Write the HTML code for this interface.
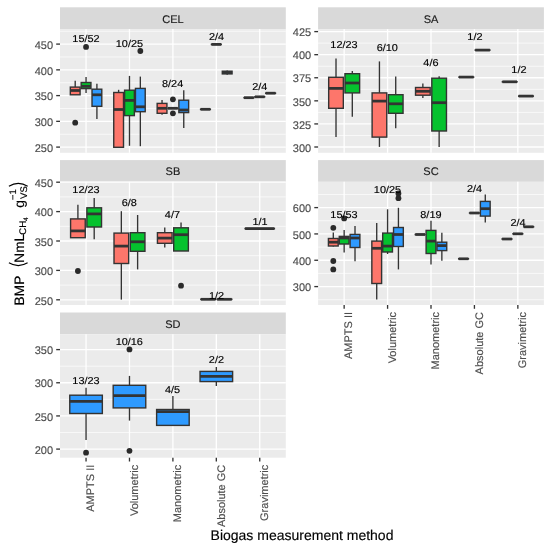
<!DOCTYPE html><html><head><meta charset="utf-8"><style>html,body{margin:0;padding:0;background:#fff;}svg{display:block;will-change:transform;}text{font-family:"Liberation Sans", sans-serif;stroke-width:0.15px;text-rendering:geometricPrecision;}.ax{fill:#4D4D4D;stroke:#4D4D4D;}.bk{fill:#000;stroke:#000;}.st{fill:#1A1A1A;stroke:#1A1A1A;}</style></head><body>
<svg width="550" height="547" viewBox="0 0 550 547">
<rect x="0" y="0" width="550" height="547" fill="#fff"/>
<rect x="60.0" y="7.3" width="225.80" height="21.80" fill="#D9D9D9"/>
<text x="172.90" y="22.50" font-size="11.0" class="st" text-anchor="middle">CEL</text>
<rect x="60.0" y="29.1" width="225.80" height="123.70" fill="#EBEBEB"/>
<line x1="60.0" x2="285.8" y1="134.22" y2="134.22" stroke="#fff" stroke-width="0.67"/>
<line x1="60.0" x2="285.8" y1="108.47" y2="108.47" stroke="#fff" stroke-width="0.67"/>
<line x1="60.0" x2="285.8" y1="82.72" y2="82.72" stroke="#fff" stroke-width="0.67"/>
<line x1="60.0" x2="285.8" y1="56.98" y2="56.98" stroke="#fff" stroke-width="0.67"/>
<line x1="60.0" x2="285.8" y1="31.23" y2="31.23" stroke="#fff" stroke-width="0.67"/>
<line x1="60.0" x2="285.8" y1="44.10" y2="44.10" stroke="#fff" stroke-width="1.33"/>
<line x1="56.20" x2="60.0" y1="44.10" y2="44.10" stroke="#333" stroke-width="1.33"/>
<text x="53.10" y="48.80" font-size="11.0" class="ax" text-anchor="end">450</text>
<line x1="60.0" x2="285.8" y1="69.85" y2="69.85" stroke="#fff" stroke-width="1.33"/>
<line x1="56.20" x2="60.0" y1="69.85" y2="69.85" stroke="#333" stroke-width="1.33"/>
<text x="53.10" y="74.55" font-size="11.0" class="ax" text-anchor="end">400</text>
<line x1="60.0" x2="285.8" y1="95.60" y2="95.60" stroke="#fff" stroke-width="1.33"/>
<line x1="56.20" x2="60.0" y1="95.60" y2="95.60" stroke="#333" stroke-width="1.33"/>
<text x="53.10" y="100.30" font-size="11.0" class="ax" text-anchor="end">350</text>
<line x1="60.0" x2="285.8" y1="121.35" y2="121.35" stroke="#fff" stroke-width="1.33"/>
<line x1="56.20" x2="60.0" y1="121.35" y2="121.35" stroke="#333" stroke-width="1.33"/>
<text x="53.10" y="126.05" font-size="11.0" class="ax" text-anchor="end">300</text>
<line x1="60.0" x2="285.8" y1="147.10" y2="147.10" stroke="#fff" stroke-width="1.33"/>
<line x1="56.20" x2="60.0" y1="147.10" y2="147.10" stroke="#333" stroke-width="1.33"/>
<text x="53.10" y="151.80" font-size="11.0" class="ax" text-anchor="end">250</text>
<line x1="86.05" x2="86.05" y1="29.1" y2="152.8" stroke="#fff" stroke-width="1.33"/>
<line x1="129.48" x2="129.48" y1="29.1" y2="152.8" stroke="#fff" stroke-width="1.33"/>
<line x1="172.90" x2="172.90" y1="29.1" y2="152.8" stroke="#fff" stroke-width="1.33"/>
<line x1="216.32" x2="216.32" y1="29.1" y2="152.8" stroke="#fff" stroke-width="1.33"/>
<line x1="259.75" x2="259.75" y1="29.1" y2="152.8" stroke="#fff" stroke-width="1.33"/>
<rect x="318.1" y="7.3" width="225.80" height="21.80" fill="#D9D9D9"/>
<text x="431.00" y="22.50" font-size="11.0" class="st" text-anchor="middle">SA</text>
<rect x="318.1" y="29.1" width="225.80" height="123.70" fill="#EBEBEB"/>
<line x1="318.1" x2="543.9" y1="135.46" y2="135.46" stroke="#fff" stroke-width="0.67"/>
<line x1="318.1" x2="543.9" y1="112.38" y2="112.38" stroke="#fff" stroke-width="0.67"/>
<line x1="318.1" x2="543.9" y1="89.30" y2="89.30" stroke="#fff" stroke-width="0.67"/>
<line x1="318.1" x2="543.9" y1="66.22" y2="66.22" stroke="#fff" stroke-width="0.67"/>
<line x1="318.1" x2="543.9" y1="43.14" y2="43.14" stroke="#fff" stroke-width="0.67"/>
<line x1="318.1" x2="543.9" y1="31.60" y2="31.60" stroke="#fff" stroke-width="1.33"/>
<line x1="314.30" x2="318.1" y1="31.60" y2="31.60" stroke="#333" stroke-width="1.33"/>
<text x="311.20" y="36.30" font-size="11.0" class="ax" text-anchor="end">425</text>
<line x1="318.1" x2="543.9" y1="54.68" y2="54.68" stroke="#fff" stroke-width="1.33"/>
<line x1="314.30" x2="318.1" y1="54.68" y2="54.68" stroke="#333" stroke-width="1.33"/>
<text x="311.20" y="59.38" font-size="11.0" class="ax" text-anchor="end">400</text>
<line x1="318.1" x2="543.9" y1="77.76" y2="77.76" stroke="#fff" stroke-width="1.33"/>
<line x1="314.30" x2="318.1" y1="77.76" y2="77.76" stroke="#333" stroke-width="1.33"/>
<text x="311.20" y="82.46" font-size="11.0" class="ax" text-anchor="end">375</text>
<line x1="318.1" x2="543.9" y1="100.84" y2="100.84" stroke="#fff" stroke-width="1.33"/>
<line x1="314.30" x2="318.1" y1="100.84" y2="100.84" stroke="#333" stroke-width="1.33"/>
<text x="311.20" y="105.54" font-size="11.0" class="ax" text-anchor="end">350</text>
<line x1="318.1" x2="543.9" y1="123.92" y2="123.92" stroke="#fff" stroke-width="1.33"/>
<line x1="314.30" x2="318.1" y1="123.92" y2="123.92" stroke="#333" stroke-width="1.33"/>
<text x="311.20" y="128.62" font-size="11.0" class="ax" text-anchor="end">325</text>
<line x1="318.1" x2="543.9" y1="147.00" y2="147.00" stroke="#fff" stroke-width="1.33"/>
<line x1="314.30" x2="318.1" y1="147.00" y2="147.00" stroke="#333" stroke-width="1.33"/>
<text x="311.20" y="151.70" font-size="11.0" class="ax" text-anchor="end">300</text>
<line x1="344.15" x2="344.15" y1="29.1" y2="152.8" stroke="#fff" stroke-width="1.33"/>
<line x1="387.58" x2="387.58" y1="29.1" y2="152.8" stroke="#fff" stroke-width="1.33"/>
<line x1="431.00" x2="431.00" y1="29.1" y2="152.8" stroke="#fff" stroke-width="1.33"/>
<line x1="474.42" x2="474.42" y1="29.1" y2="152.8" stroke="#fff" stroke-width="1.33"/>
<line x1="517.85" x2="517.85" y1="29.1" y2="152.8" stroke="#fff" stroke-width="1.33"/>
<rect x="60.0" y="160.1" width="225.80" height="21.70" fill="#D9D9D9"/>
<text x="172.90" y="175.25" font-size="11.0" class="st" text-anchor="middle">SB</text>
<rect x="60.0" y="181.8" width="225.80" height="123.20" fill="#EBEBEB"/>
<line x1="60.0" x2="285.8" y1="285.10" y2="285.10" stroke="#fff" stroke-width="0.67"/>
<line x1="60.0" x2="285.8" y1="255.70" y2="255.70" stroke="#fff" stroke-width="0.67"/>
<line x1="60.0" x2="285.8" y1="226.30" y2="226.30" stroke="#fff" stroke-width="0.67"/>
<line x1="60.0" x2="285.8" y1="196.90" y2="196.90" stroke="#fff" stroke-width="0.67"/>
<line x1="60.0" x2="285.8" y1="182.20" y2="182.20" stroke="#fff" stroke-width="1.33"/>
<line x1="56.20" x2="60.0" y1="182.20" y2="182.20" stroke="#333" stroke-width="1.33"/>
<text x="53.10" y="186.90" font-size="11.0" class="ax" text-anchor="end">450</text>
<line x1="60.0" x2="285.8" y1="211.60" y2="211.60" stroke="#fff" stroke-width="1.33"/>
<line x1="56.20" x2="60.0" y1="211.60" y2="211.60" stroke="#333" stroke-width="1.33"/>
<text x="53.10" y="216.30" font-size="11.0" class="ax" text-anchor="end">400</text>
<line x1="60.0" x2="285.8" y1="241.00" y2="241.00" stroke="#fff" stroke-width="1.33"/>
<line x1="56.20" x2="60.0" y1="241.00" y2="241.00" stroke="#333" stroke-width="1.33"/>
<text x="53.10" y="245.70" font-size="11.0" class="ax" text-anchor="end">350</text>
<line x1="60.0" x2="285.8" y1="270.40" y2="270.40" stroke="#fff" stroke-width="1.33"/>
<line x1="56.20" x2="60.0" y1="270.40" y2="270.40" stroke="#333" stroke-width="1.33"/>
<text x="53.10" y="275.10" font-size="11.0" class="ax" text-anchor="end">300</text>
<line x1="60.0" x2="285.8" y1="299.80" y2="299.80" stroke="#fff" stroke-width="1.33"/>
<line x1="56.20" x2="60.0" y1="299.80" y2="299.80" stroke="#333" stroke-width="1.33"/>
<text x="53.10" y="304.50" font-size="11.0" class="ax" text-anchor="end">250</text>
<line x1="86.05" x2="86.05" y1="181.8" y2="305.0" stroke="#fff" stroke-width="1.33"/>
<line x1="129.48" x2="129.48" y1="181.8" y2="305.0" stroke="#fff" stroke-width="1.33"/>
<line x1="172.90" x2="172.90" y1="181.8" y2="305.0" stroke="#fff" stroke-width="1.33"/>
<line x1="216.32" x2="216.32" y1="181.8" y2="305.0" stroke="#fff" stroke-width="1.33"/>
<line x1="259.75" x2="259.75" y1="181.8" y2="305.0" stroke="#fff" stroke-width="1.33"/>
<rect x="318.1" y="160.1" width="225.80" height="21.70" fill="#D9D9D9"/>
<text x="431.00" y="175.25" font-size="11.0" class="st" text-anchor="middle">SC</text>
<rect x="318.1" y="181.8" width="225.80" height="123.20" fill="#EBEBEB"/>
<line x1="318.1" x2="543.9" y1="299.75" y2="299.75" stroke="#fff" stroke-width="0.67"/>
<line x1="318.1" x2="543.9" y1="273.42" y2="273.42" stroke="#fff" stroke-width="0.67"/>
<line x1="318.1" x2="543.9" y1="247.09" y2="247.09" stroke="#fff" stroke-width="0.67"/>
<line x1="318.1" x2="543.9" y1="220.76" y2="220.76" stroke="#fff" stroke-width="0.67"/>
<line x1="318.1" x2="543.9" y1="194.44" y2="194.44" stroke="#fff" stroke-width="0.67"/>
<line x1="318.1" x2="543.9" y1="207.60" y2="207.60" stroke="#fff" stroke-width="1.33"/>
<line x1="314.30" x2="318.1" y1="207.60" y2="207.60" stroke="#333" stroke-width="1.33"/>
<text x="311.20" y="212.30" font-size="11.0" class="ax" text-anchor="end">600</text>
<line x1="318.1" x2="543.9" y1="233.93" y2="233.93" stroke="#fff" stroke-width="1.33"/>
<line x1="314.30" x2="318.1" y1="233.93" y2="233.93" stroke="#333" stroke-width="1.33"/>
<text x="311.20" y="238.63" font-size="11.0" class="ax" text-anchor="end">500</text>
<line x1="318.1" x2="543.9" y1="260.26" y2="260.26" stroke="#fff" stroke-width="1.33"/>
<line x1="314.30" x2="318.1" y1="260.26" y2="260.26" stroke="#333" stroke-width="1.33"/>
<text x="311.20" y="264.96" font-size="11.0" class="ax" text-anchor="end">400</text>
<line x1="318.1" x2="543.9" y1="286.59" y2="286.59" stroke="#fff" stroke-width="1.33"/>
<line x1="314.30" x2="318.1" y1="286.59" y2="286.59" stroke="#333" stroke-width="1.33"/>
<text x="311.20" y="291.29" font-size="11.0" class="ax" text-anchor="end">300</text>
<line x1="344.15" x2="344.15" y1="181.8" y2="305.0" stroke="#fff" stroke-width="1.33"/>
<line x1="387.58" x2="387.58" y1="181.8" y2="305.0" stroke="#fff" stroke-width="1.33"/>
<line x1="431.00" x2="431.00" y1="181.8" y2="305.0" stroke="#fff" stroke-width="1.33"/>
<line x1="474.42" x2="474.42" y1="181.8" y2="305.0" stroke="#fff" stroke-width="1.33"/>
<line x1="517.85" x2="517.85" y1="181.8" y2="305.0" stroke="#fff" stroke-width="1.33"/>
<rect x="60.0" y="312.5" width="225.80" height="21.70" fill="#D9D9D9"/>
<text x="172.90" y="327.65" font-size="11.0" class="st" text-anchor="middle">SD</text>
<rect x="60.0" y="334.2" width="225.80" height="123.50" fill="#EBEBEB"/>
<line x1="60.0" x2="285.8" y1="432.51" y2="432.51" stroke="#fff" stroke-width="0.67"/>
<line x1="60.0" x2="285.8" y1="399.35" y2="399.35" stroke="#fff" stroke-width="0.67"/>
<line x1="60.0" x2="285.8" y1="366.18" y2="366.18" stroke="#fff" stroke-width="0.67"/>
<line x1="60.0" x2="285.8" y1="349.60" y2="349.60" stroke="#fff" stroke-width="1.33"/>
<line x1="56.20" x2="60.0" y1="349.60" y2="349.60" stroke="#333" stroke-width="1.33"/>
<text x="53.10" y="354.30" font-size="11.0" class="ax" text-anchor="end">350</text>
<line x1="60.0" x2="285.8" y1="382.77" y2="382.77" stroke="#fff" stroke-width="1.33"/>
<line x1="56.20" x2="60.0" y1="382.77" y2="382.77" stroke="#333" stroke-width="1.33"/>
<text x="53.10" y="387.47" font-size="11.0" class="ax" text-anchor="end">300</text>
<line x1="60.0" x2="285.8" y1="415.93" y2="415.93" stroke="#fff" stroke-width="1.33"/>
<line x1="56.20" x2="60.0" y1="415.93" y2="415.93" stroke="#333" stroke-width="1.33"/>
<text x="53.10" y="420.63" font-size="11.0" class="ax" text-anchor="end">250</text>
<line x1="60.0" x2="285.8" y1="449.10" y2="449.10" stroke="#fff" stroke-width="1.33"/>
<line x1="56.20" x2="60.0" y1="449.10" y2="449.10" stroke="#333" stroke-width="1.33"/>
<text x="53.10" y="453.80" font-size="11.0" class="ax" text-anchor="end">200</text>
<line x1="86.05" x2="86.05" y1="334.2" y2="457.7" stroke="#fff" stroke-width="1.33"/>
<line x1="129.48" x2="129.48" y1="334.2" y2="457.7" stroke="#fff" stroke-width="1.33"/>
<line x1="172.90" x2="172.90" y1="334.2" y2="457.7" stroke="#fff" stroke-width="1.33"/>
<line x1="216.32" x2="216.32" y1="334.2" y2="457.7" stroke="#fff" stroke-width="1.33"/>
<line x1="259.75" x2="259.75" y1="334.2" y2="457.7" stroke="#fff" stroke-width="1.33"/>
<line x1="86.05" x2="86.05" y1="457.7" y2="461.50" stroke="#333" stroke-width="1.33"/>
<text transform="translate(94.35,464.70) rotate(-90)" font-size="11.0" class="ax" text-anchor="end">AMPTS II</text>
<line x1="129.48" x2="129.48" y1="457.7" y2="461.50" stroke="#333" stroke-width="1.33"/>
<text transform="translate(137.78,464.70) rotate(-90)" font-size="11.0" class="ax" text-anchor="end">Volumetric</text>
<line x1="172.90" x2="172.90" y1="457.7" y2="461.50" stroke="#333" stroke-width="1.33"/>
<text transform="translate(181.20,464.70) rotate(-90)" font-size="11.0" class="ax" text-anchor="end">Manometric</text>
<line x1="216.32" x2="216.32" y1="457.7" y2="461.50" stroke="#333" stroke-width="1.33"/>
<text transform="translate(224.62,464.70) rotate(-90)" font-size="11.0" class="ax" text-anchor="end">Absolute GC</text>
<line x1="259.75" x2="259.75" y1="457.7" y2="461.50" stroke="#333" stroke-width="1.33"/>
<text transform="translate(268.05,464.70) rotate(-90)" font-size="11.0" class="ax" text-anchor="end">Gravimetric</text>
<line x1="344.15" x2="344.15" y1="305.0" y2="308.80" stroke="#333" stroke-width="1.33"/>
<text transform="translate(352.45,312.00) rotate(-90)" font-size="11.0" class="ax" text-anchor="end">AMPTS II</text>
<line x1="387.58" x2="387.58" y1="305.0" y2="308.80" stroke="#333" stroke-width="1.33"/>
<text transform="translate(395.88,312.00) rotate(-90)" font-size="11.0" class="ax" text-anchor="end">Volumetric</text>
<line x1="431.00" x2="431.00" y1="305.0" y2="308.80" stroke="#333" stroke-width="1.33"/>
<text transform="translate(439.30,312.00) rotate(-90)" font-size="11.0" class="ax" text-anchor="end">Manometric</text>
<line x1="474.42" x2="474.42" y1="305.0" y2="308.80" stroke="#333" stroke-width="1.33"/>
<text transform="translate(482.72,312.00) rotate(-90)" font-size="11.0" class="ax" text-anchor="end">Absolute GC</text>
<line x1="517.85" x2="517.85" y1="305.0" y2="308.80" stroke="#333" stroke-width="1.33"/>
<text transform="translate(526.15,312.00) rotate(-90)" font-size="11.0" class="ax" text-anchor="end">Gravimetric</text>
<text x="302.0" y="540.3" font-size="14" class="bk" text-anchor="middle">Biogas measurement method</text>
<line x1="75.20" x2="75.20" y1="80.70" y2="87.10" stroke="#333333" stroke-width="1.35"/>
<rect x="70.31" y="87.10" width="9.77" height="7.70" fill="#FD766B" stroke="#333333" stroke-width="1.4"/>
<line x1="70.31" x2="80.08" y1="90.50" y2="90.50" stroke="#333333" stroke-width="2.75"/>
<circle cx="75.20" cy="122.70" r="2.9" fill="#2A2A2A"/>
<line x1="86.05" x2="86.05" y1="77.00" y2="82.50" stroke="#333333" stroke-width="1.35"/>
<line x1="86.05" x2="86.05" y1="88.60" y2="93.00" stroke="#333333" stroke-width="1.35"/>
<rect x="81.17" y="82.50" width="9.77" height="6.10" fill="#05C22E" stroke="#333333" stroke-width="1.4"/>
<line x1="81.17" x2="90.94" y1="86.30" y2="86.30" stroke="#333333" stroke-width="2.75"/>
<circle cx="86.05" cy="46.90" r="2.9" fill="#2A2A2A"/>
<line x1="96.91" x2="96.91" y1="83.70" y2="89.20" stroke="#333333" stroke-width="1.35"/>
<line x1="96.91" x2="96.91" y1="106.30" y2="119.10" stroke="#333333" stroke-width="1.35"/>
<rect x="92.02" y="89.20" width="9.77" height="17.10" fill="#2E9AFF" stroke="#333333" stroke-width="1.4"/>
<line x1="92.02" x2="101.79" y1="94.80" y2="94.80" stroke="#333333" stroke-width="2.75"/>
<line x1="118.62" x2="118.62" y1="89.80" y2="92.50" stroke="#333333" stroke-width="1.35"/>
<rect x="113.74" y="92.50" width="9.77" height="54.80" fill="#FD766B" stroke="#333333" stroke-width="1.4"/>
<line x1="113.74" x2="123.51" y1="109.50" y2="109.50" stroke="#333333" stroke-width="2.75"/>
<line x1="129.48" x2="129.48" y1="75.90" y2="90.20" stroke="#333333" stroke-width="1.35"/>
<line x1="129.48" x2="129.48" y1="115.60" y2="145.80" stroke="#333333" stroke-width="1.35"/>
<rect x="124.59" y="90.20" width="9.77" height="25.40" fill="#05C22E" stroke="#333333" stroke-width="1.4"/>
<line x1="124.59" x2="134.36" y1="100.40" y2="100.40" stroke="#333333" stroke-width="2.75"/>
<line x1="140.33" x2="140.33" y1="76.60" y2="88.40" stroke="#333333" stroke-width="1.35"/>
<line x1="140.33" x2="140.33" y1="111.70" y2="146.20" stroke="#333333" stroke-width="1.35"/>
<rect x="135.45" y="88.40" width="9.77" height="23.30" fill="#2E9AFF" stroke="#333333" stroke-width="1.4"/>
<line x1="135.45" x2="145.22" y1="106.80" y2="106.80" stroke="#333333" stroke-width="2.75"/>
<circle cx="140.33" cy="51.00" r="2.9" fill="#2A2A2A"/>
<line x1="162.04" x2="162.04" y1="100.00" y2="103.40" stroke="#333333" stroke-width="1.35"/>
<line x1="162.04" x2="162.04" y1="113.30" y2="114.70" stroke="#333333" stroke-width="1.35"/>
<rect x="157.16" y="103.40" width="9.77" height="9.90" fill="#FD766B" stroke="#333333" stroke-width="1.4"/>
<line x1="157.16" x2="166.93" y1="108.30" y2="108.30" stroke="#333333" stroke-width="2.75"/>
<rect x="168.01" y="108.20" width="9.77" height="0.2" fill="#05C22E" stroke="#333333" stroke-width="1.4"/>
<line x1="168.01" x2="177.79" y1="108.30" y2="108.30" stroke="#333333" stroke-width="2.75"/>
<circle cx="172.90" cy="99.30" r="2.9" fill="#2A2A2A"/>
<circle cx="172.90" cy="113.30" r="2.9" fill="#2A2A2A"/>
<line x1="183.76" x2="183.76" y1="90.20" y2="100.20" stroke="#333333" stroke-width="1.35"/>
<line x1="183.76" x2="183.76" y1="112.60" y2="128.00" stroke="#333333" stroke-width="1.35"/>
<rect x="178.87" y="100.20" width="9.77" height="12.40" fill="#2E9AFF" stroke="#333333" stroke-width="1.4"/>
<line x1="178.87" x2="188.64" y1="110.00" y2="110.00" stroke="#333333" stroke-width="2.75"/>
<rect x="200.58" y="109.20" width="9.77" height="0.2" fill="#FD766B" stroke="#333333" stroke-width="1.4"/>
<line x1="200.58" x2="210.35" y1="109.30" y2="109.30" stroke="#333333" stroke-width="2.75"/>
<rect x="211.44" y="44.30" width="9.77" height="0.2" fill="#05C22E" stroke="#333333" stroke-width="1.4"/>
<line x1="211.44" x2="221.21" y1="44.40" y2="44.40" stroke="#333333" stroke-width="2.75"/>
<line x1="227.18" x2="227.18" y1="70.50" y2="71.20" stroke="#333333" stroke-width="1.35"/>
<line x1="227.18" x2="227.18" y1="73.90" y2="74.80" stroke="#333333" stroke-width="1.35"/>
<rect x="222.29" y="71.20" width="9.77" height="2.70" fill="#2E9AFF" stroke="#333333" stroke-width="1.4"/>
<line x1="222.29" x2="232.06" y1="72.50" y2="72.50" stroke="#333333" stroke-width="2.75"/>
<rect x="244.01" y="97.60" width="9.77" height="0.2" fill="#FD766B" stroke="#333333" stroke-width="1.4"/>
<line x1="244.01" x2="253.78" y1="97.70" y2="97.70" stroke="#333333" stroke-width="2.75"/>
<rect x="254.86" y="96.70" width="9.77" height="0.2" fill="#05C22E" stroke="#333333" stroke-width="1.4"/>
<line x1="254.86" x2="264.63" y1="96.80" y2="96.80" stroke="#333333" stroke-width="2.75"/>
<rect x="265.72" y="93.10" width="9.77" height="0.2" fill="#2E9AFF" stroke="#333333" stroke-width="1.4"/>
<line x1="265.72" x2="275.49" y1="93.20" y2="93.20" stroke="#333333" stroke-width="2.75"/>
<line x1="336.01" x2="336.01" y1="58.50" y2="77.30" stroke="#333333" stroke-width="1.35"/>
<line x1="336.01" x2="336.01" y1="108.30" y2="137.10" stroke="#333333" stroke-width="1.35"/>
<rect x="328.68" y="77.30" width="14.66" height="31.00" fill="#FD766B" stroke="#333333" stroke-width="1.4"/>
<line x1="328.68" x2="343.34" y1="88.40" y2="88.40" stroke="#333333" stroke-width="2.75"/>
<line x1="352.30" x2="352.30" y1="70.90" y2="73.70" stroke="#333333" stroke-width="1.35"/>
<line x1="352.30" x2="352.30" y1="92.90" y2="116.70" stroke="#333333" stroke-width="1.35"/>
<rect x="344.97" y="73.70" width="14.66" height="19.20" fill="#05C22E" stroke="#333333" stroke-width="1.4"/>
<line x1="344.97" x2="359.62" y1="83.00" y2="83.00" stroke="#333333" stroke-width="2.75"/>
<line x1="379.44" x2="379.44" y1="61.40" y2="92.90" stroke="#333333" stroke-width="1.35"/>
<line x1="379.44" x2="379.44" y1="137.10" y2="146.90" stroke="#333333" stroke-width="1.35"/>
<rect x="372.11" y="92.90" width="14.66" height="44.20" fill="#FD766B" stroke="#333333" stroke-width="1.4"/>
<line x1="372.11" x2="386.76" y1="101.10" y2="101.10" stroke="#333333" stroke-width="2.75"/>
<line x1="395.72" x2="395.72" y1="76.60" y2="94.70" stroke="#333333" stroke-width="1.35"/>
<line x1="395.72" x2="395.72" y1="113.30" y2="128.30" stroke="#333333" stroke-width="1.35"/>
<rect x="388.39" y="94.70" width="14.66" height="18.60" fill="#05C22E" stroke="#333333" stroke-width="1.4"/>
<line x1="388.39" x2="403.05" y1="103.80" y2="103.80" stroke="#333333" stroke-width="2.75"/>
<line x1="422.86" x2="422.86" y1="83.40" y2="87.50" stroke="#333333" stroke-width="1.35"/>
<line x1="422.86" x2="422.86" y1="95.20" y2="98.10" stroke="#333333" stroke-width="1.35"/>
<rect x="415.53" y="87.50" width="14.66" height="7.70" fill="#FD766B" stroke="#333333" stroke-width="1.4"/>
<line x1="415.53" x2="430.19" y1="91.30" y2="91.30" stroke="#333333" stroke-width="2.75"/>
<line x1="439.14" x2="439.14" y1="76.20" y2="78.20" stroke="#333333" stroke-width="1.35"/>
<line x1="439.14" x2="439.14" y1="131.00" y2="146.90" stroke="#333333" stroke-width="1.35"/>
<rect x="431.81" y="78.20" width="14.66" height="52.80" fill="#05C22E" stroke="#333333" stroke-width="1.4"/>
<line x1="431.81" x2="446.47" y1="102.70" y2="102.70" stroke="#333333" stroke-width="2.75"/>
<rect x="458.95" y="77.00" width="14.66" height="0.2" fill="#FD766B" stroke="#333333" stroke-width="1.4"/>
<line x1="458.95" x2="473.61" y1="77.10" y2="77.10" stroke="#333333" stroke-width="2.75"/>
<rect x="475.24" y="50.00" width="14.66" height="0.2" fill="#05C22E" stroke="#333333" stroke-width="1.4"/>
<line x1="475.24" x2="489.89" y1="50.10" y2="50.10" stroke="#333333" stroke-width="2.75"/>
<rect x="502.38" y="81.70" width="14.66" height="0.2" fill="#FD766B" stroke="#333333" stroke-width="1.4"/>
<line x1="502.38" x2="517.03" y1="81.80" y2="81.80" stroke="#333333" stroke-width="2.75"/>
<rect x="518.66" y="96.00" width="14.66" height="0.2" fill="#05C22E" stroke="#333333" stroke-width="1.4"/>
<line x1="518.66" x2="533.32" y1="96.10" y2="96.10" stroke="#333333" stroke-width="2.75"/>
<line x1="77.91" x2="77.91" y1="204.80" y2="218.90" stroke="#333333" stroke-width="1.35"/>
<rect x="70.58" y="218.90" width="14.66" height="18.80" fill="#FD766B" stroke="#333333" stroke-width="1.4"/>
<line x1="70.58" x2="85.24" y1="230.90" y2="230.90" stroke="#333333" stroke-width="2.75"/>
<circle cx="77.91" cy="271.00" r="2.9" fill="#2A2A2A"/>
<line x1="94.20" x2="94.20" y1="198.00" y2="207.80" stroke="#333333" stroke-width="1.35"/>
<line x1="94.20" x2="94.20" y1="227.00" y2="239.30" stroke="#333333" stroke-width="1.35"/>
<rect x="86.87" y="207.80" width="14.66" height="19.20" fill="#05C22E" stroke="#333333" stroke-width="1.4"/>
<line x1="86.87" x2="101.52" y1="213.90" y2="213.90" stroke="#333333" stroke-width="2.75"/>
<line x1="121.34" x2="121.34" y1="211.20" y2="233.10" stroke="#333333" stroke-width="1.35"/>
<line x1="121.34" x2="121.34" y1="263.50" y2="299.60" stroke="#333333" stroke-width="1.35"/>
<rect x="114.01" y="233.10" width="14.66" height="30.40" fill="#FD766B" stroke="#333333" stroke-width="1.4"/>
<line x1="114.01" x2="128.66" y1="246.10" y2="246.10" stroke="#333333" stroke-width="2.75"/>
<line x1="137.62" x2="137.62" y1="215.00" y2="232.70" stroke="#333333" stroke-width="1.35"/>
<line x1="137.62" x2="137.62" y1="251.30" y2="269.40" stroke="#333333" stroke-width="1.35"/>
<rect x="130.29" y="232.70" width="14.66" height="18.60" fill="#05C22E" stroke="#333333" stroke-width="1.4"/>
<line x1="130.29" x2="144.95" y1="241.80" y2="241.80" stroke="#333333" stroke-width="2.75"/>
<line x1="164.76" x2="164.76" y1="227.50" y2="232.70" stroke="#333333" stroke-width="1.35"/>
<line x1="164.76" x2="164.76" y1="243.30" y2="247.40" stroke="#333333" stroke-width="1.35"/>
<rect x="157.43" y="232.70" width="14.66" height="10.60" fill="#FD766B" stroke="#333333" stroke-width="1.4"/>
<line x1="157.43" x2="172.09" y1="238.10" y2="238.10" stroke="#333333" stroke-width="2.75"/>
<line x1="181.04" x2="181.04" y1="222.50" y2="227.80" stroke="#333333" stroke-width="1.35"/>
<rect x="173.71" y="227.80" width="14.66" height="23.20" fill="#05C22E" stroke="#333333" stroke-width="1.4"/>
<line x1="173.71" x2="188.37" y1="234.70" y2="234.70" stroke="#333333" stroke-width="2.75"/>
<circle cx="181.04" cy="285.70" r="2.9" fill="#2A2A2A"/>
<rect x="200.85" y="299.20" width="14.66" height="0.2" fill="#FD766B" stroke="#333333" stroke-width="1.4"/>
<line x1="200.85" x2="215.51" y1="299.30" y2="299.30" stroke="#333333" stroke-width="2.75"/>
<rect x="217.14" y="299.20" width="14.66" height="0.2" fill="#05C22E" stroke="#333333" stroke-width="1.4"/>
<line x1="217.14" x2="231.79" y1="299.30" y2="299.30" stroke="#333333" stroke-width="2.75"/>
<rect x="245.09" y="228.50" width="29.31" height="0.2" fill="#FD766B" stroke="#333333" stroke-width="1.4"/>
<line x1="245.09" x2="274.40" y1="228.60" y2="228.60" stroke="#333333" stroke-width="2.75"/>
<line x1="333.30" x2="333.30" y1="232.50" y2="238.50" stroke="#333333" stroke-width="1.35"/>
<line x1="333.30" x2="333.30" y1="246.00" y2="246.60" stroke="#333333" stroke-width="1.35"/>
<rect x="328.41" y="238.50" width="9.77" height="7.50" fill="#FD766B" stroke="#333333" stroke-width="1.4"/>
<line x1="328.41" x2="338.18" y1="242.20" y2="242.20" stroke="#333333" stroke-width="2.75"/>
<circle cx="333.30" cy="227.80" r="2.9" fill="#2A2A2A"/>
<circle cx="333.30" cy="261.00" r="2.9" fill="#2A2A2A"/>
<circle cx="333.30" cy="269.40" r="2.9" fill="#2A2A2A"/>
<line x1="344.15" x2="344.15" y1="230.00" y2="236.40" stroke="#333333" stroke-width="1.35"/>
<line x1="344.15" x2="344.15" y1="244.00" y2="252.60" stroke="#333333" stroke-width="1.35"/>
<rect x="339.27" y="236.40" width="9.77" height="7.60" fill="#05C22E" stroke="#333333" stroke-width="1.4"/>
<line x1="339.27" x2="349.04" y1="238.00" y2="238.00" stroke="#333333" stroke-width="2.75"/>
<circle cx="344.15" cy="218.40" r="2.9" fill="#2A2A2A"/>
<line x1="355.01" x2="355.01" y1="226.10" y2="234.40" stroke="#333333" stroke-width="1.35"/>
<line x1="355.01" x2="355.01" y1="247.50" y2="261.30" stroke="#333333" stroke-width="1.35"/>
<rect x="350.12" y="234.40" width="9.77" height="13.10" fill="#2E9AFF" stroke="#333333" stroke-width="1.4"/>
<line x1="350.12" x2="359.89" y1="238.00" y2="238.00" stroke="#333333" stroke-width="2.75"/>
<line x1="376.72" x2="376.72" y1="222.90" y2="241.10" stroke="#333333" stroke-width="1.35"/>
<line x1="376.72" x2="376.72" y1="283.50" y2="299.60" stroke="#333333" stroke-width="1.35"/>
<rect x="371.84" y="241.10" width="9.77" height="42.40" fill="#FD766B" stroke="#333333" stroke-width="1.4"/>
<line x1="371.84" x2="381.61" y1="248.30" y2="248.30" stroke="#333333" stroke-width="2.75"/>
<line x1="387.58" x2="387.58" y1="209.30" y2="233.10" stroke="#333333" stroke-width="1.35"/>
<line x1="387.58" x2="387.58" y1="252.00" y2="254.00" stroke="#333333" stroke-width="1.35"/>
<rect x="382.69" y="233.10" width="9.77" height="18.90" fill="#05C22E" stroke="#333333" stroke-width="1.4"/>
<line x1="382.69" x2="392.46" y1="246.10" y2="246.10" stroke="#333333" stroke-width="2.75"/>
<line x1="398.43" x2="398.43" y1="207.80" y2="227.50" stroke="#333333" stroke-width="1.35"/>
<line x1="398.43" x2="398.43" y1="246.50" y2="269.40" stroke="#333333" stroke-width="1.35"/>
<rect x="393.55" y="227.50" width="9.77" height="19.00" fill="#2E9AFF" stroke="#333333" stroke-width="1.4"/>
<line x1="393.55" x2="403.32" y1="234.50" y2="234.50" stroke="#333333" stroke-width="2.75"/>
<circle cx="398.43" cy="193.40" r="2.9" fill="#2A2A2A"/>
<circle cx="398.43" cy="198.20" r="2.9" fill="#2A2A2A"/>
<rect x="415.26" y="234.40" width="9.77" height="0.2" fill="#FD766B" stroke="#333333" stroke-width="1.4"/>
<line x1="415.26" x2="425.03" y1="234.50" y2="234.50" stroke="#333333" stroke-width="2.75"/>
<line x1="431.00" x2="431.00" y1="220.70" y2="230.40" stroke="#333333" stroke-width="1.35"/>
<line x1="431.00" x2="431.00" y1="253.50" y2="264.40" stroke="#333333" stroke-width="1.35"/>
<rect x="426.11" y="230.40" width="9.77" height="23.10" fill="#05C22E" stroke="#333333" stroke-width="1.4"/>
<line x1="426.11" x2="435.89" y1="241.10" y2="241.10" stroke="#333333" stroke-width="2.75"/>
<line x1="441.86" x2="441.86" y1="232.70" y2="242.20" stroke="#333333" stroke-width="1.35"/>
<line x1="441.86" x2="441.86" y1="250.60" y2="260.80" stroke="#333333" stroke-width="1.35"/>
<rect x="436.97" y="242.20" width="9.77" height="8.40" fill="#2E9AFF" stroke="#333333" stroke-width="1.4"/>
<line x1="436.97" x2="446.74" y1="245.60" y2="245.60" stroke="#333333" stroke-width="2.75"/>
<rect x="458.68" y="258.70" width="9.77" height="0.2" fill="#FD766B" stroke="#333333" stroke-width="1.4"/>
<line x1="458.68" x2="468.45" y1="258.80" y2="258.80" stroke="#333333" stroke-width="2.75"/>
<rect x="469.54" y="212.90" width="9.77" height="0.2" fill="#05C22E" stroke="#333333" stroke-width="1.4"/>
<line x1="469.54" x2="479.31" y1="213.00" y2="213.00" stroke="#333333" stroke-width="2.75"/>
<line x1="485.28" x2="485.28" y1="194.60" y2="201.40" stroke="#333333" stroke-width="1.35"/>
<line x1="485.28" x2="485.28" y1="216.10" y2="222.50" stroke="#333333" stroke-width="1.35"/>
<rect x="480.39" y="201.40" width="9.77" height="14.70" fill="#2E9AFF" stroke="#333333" stroke-width="1.4"/>
<line x1="480.39" x2="490.16" y1="208.70" y2="208.70" stroke="#333333" stroke-width="2.75"/>
<rect x="502.11" y="238.90" width="9.77" height="0.2" fill="#FD766B" stroke="#333333" stroke-width="1.4"/>
<line x1="502.11" x2="511.88" y1="239.00" y2="239.00" stroke="#333333" stroke-width="2.75"/>
<rect x="512.96" y="233.70" width="9.77" height="0.2" fill="#05C22E" stroke="#333333" stroke-width="1.4"/>
<line x1="512.96" x2="522.73" y1="233.80" y2="233.80" stroke="#333333" stroke-width="2.75"/>
<rect x="523.82" y="226.70" width="9.77" height="0.2" fill="#2E9AFF" stroke="#333333" stroke-width="1.4"/>
<line x1="523.82" x2="533.59" y1="226.80" y2="226.80" stroke="#333333" stroke-width="2.75"/>
<line x1="86.05" x2="86.05" y1="387.70" y2="395.20" stroke="#333333" stroke-width="1.35"/>
<line x1="86.05" x2="86.05" y1="413.50" y2="439.90" stroke="#333333" stroke-width="1.35"/>
<rect x="69.77" y="395.20" width="32.57" height="18.30" fill="#2E9AFF" stroke="#333333" stroke-width="1.4"/>
<line x1="69.77" x2="102.34" y1="401.30" y2="401.30" stroke="#333333" stroke-width="2.75"/>
<circle cx="86.05" cy="452.70" r="2.9" fill="#2A2A2A"/>
<line x1="129.48" x2="129.48" y1="375.90" y2="385.30" stroke="#333333" stroke-width="1.35"/>
<line x1="129.48" x2="129.48" y1="407.90" y2="420.60" stroke="#333333" stroke-width="1.35"/>
<rect x="113.19" y="385.30" width="32.57" height="22.60" fill="#2E9AFF" stroke="#333333" stroke-width="1.4"/>
<line x1="113.19" x2="145.76" y1="395.70" y2="395.70" stroke="#333333" stroke-width="2.75"/>
<circle cx="129.48" cy="349.40" r="2.9" fill="#2A2A2A"/>
<circle cx="129.48" cy="450.80" r="2.9" fill="#2A2A2A"/>
<line x1="172.90" x2="172.90" y1="395.90" y2="409.50" stroke="#333333" stroke-width="1.35"/>
<rect x="156.62" y="409.50" width="32.57" height="15.90" fill="#2E9AFF" stroke="#333333" stroke-width="1.4"/>
<line x1="156.62" x2="189.18" y1="411.50" y2="411.50" stroke="#333333" stroke-width="2.75"/>
<line x1="216.32" x2="216.32" y1="366.90" y2="371.40" stroke="#333333" stroke-width="1.35"/>
<line x1="216.32" x2="216.32" y1="381.60" y2="386.10" stroke="#333333" stroke-width="1.35"/>
<rect x="200.04" y="371.40" width="32.57" height="10.20" fill="#2E9AFF" stroke="#333333" stroke-width="1.4"/>
<line x1="200.04" x2="232.61" y1="376.40" y2="376.40" stroke="#333333" stroke-width="2.75"/>
<text transform="translate(86.00,42.30) scale(1.09,1)" font-size="10.0" class="bk" text-anchor="middle">15/52</text>
<text transform="translate(129.40,46.50) scale(1.09,1)" font-size="10.0" class="bk" text-anchor="middle">10/25</text>
<text transform="translate(172.60,86.60) scale(1.09,1)" font-size="10.0" class="bk" text-anchor="middle">8/24</text>
<text transform="translate(216.50,39.70) scale(1.09,1)" font-size="10.0" class="bk" text-anchor="middle">2/4</text>
<text transform="translate(259.80,89.50) scale(1.09,1)" font-size="10.0" class="bk" text-anchor="middle">2/4</text>
<text transform="translate(344.00,48.10) scale(1.09,1)" font-size="10.0" class="bk" text-anchor="middle">12/23</text>
<text transform="translate(387.30,51.00) scale(1.09,1)" font-size="10.0" class="bk" text-anchor="middle">6/10</text>
<text transform="translate(430.90,66.20) scale(1.09,1)" font-size="10.0" class="bk" text-anchor="middle">4/6</text>
<text transform="translate(474.90,39.70) scale(1.09,1)" font-size="10.0" class="bk" text-anchor="middle">1/2</text>
<text transform="translate(518.90,72.60) scale(1.09,1)" font-size="10.0" class="bk" text-anchor="middle">1/2</text>
<text transform="translate(86.00,192.70) scale(1.09,1)" font-size="10.0" class="bk" text-anchor="middle">12/23</text>
<text transform="translate(129.30,206.40) scale(1.09,1)" font-size="10.0" class="bk" text-anchor="middle">6/8</text>
<text transform="translate(172.40,217.80) scale(1.09,1)" font-size="10.0" class="bk" text-anchor="middle">4/7</text>
<text transform="translate(216.50,298.50) scale(1.09,1)" font-size="10.0" class="bk" text-anchor="middle">1/2</text>
<text transform="translate(260.00,225.30) scale(1.09,1)" font-size="10.0" class="bk" text-anchor="middle">1/1</text>
<text transform="translate(344.00,217.50) scale(1.09,1)" font-size="10.0" class="bk" text-anchor="middle">15/53</text>
<text transform="translate(387.50,192.50) scale(1.09,1)" font-size="10.0" class="bk" text-anchor="middle">10/25</text>
<text transform="translate(430.90,218.20) scale(1.09,1)" font-size="10.0" class="bk" text-anchor="middle">8/19</text>
<text transform="translate(474.50,192.40) scale(1.09,1)" font-size="10.0" class="bk" text-anchor="middle">2/4</text>
<text transform="translate(518.00,225.70) scale(1.09,1)" font-size="10.0" class="bk" text-anchor="middle">2/4</text>
<text transform="translate(86.00,384.40) scale(1.09,1)" font-size="10.0" class="bk" text-anchor="middle">13/23</text>
<text transform="translate(129.30,344.70) scale(1.09,1)" font-size="10.0" class="bk" text-anchor="middle">10/16</text>
<text transform="translate(172.50,393.00) scale(1.09,1)" font-size="10.0" class="bk" text-anchor="middle">4/5</text>
<text transform="translate(216.40,362.80) scale(1.09,1)" font-size="10.0" class="bk" text-anchor="middle">2/2</text>
<text transform="translate(23.8,305.4) rotate(-90)" font-size="13.7" class="bk">BMP</text>
<path d="M8.9,262.8 Q18.25,268.4 27.6,262.8" fill="none" stroke="#000" stroke-width="1.1"/>
<text transform="translate(23.8,262.7) rotate(-90)" font-size="13.7" class="bk">NmL</text>
<text transform="translate(25.8,234.8) rotate(-90)" font-size="9.6" class="bk">CH</text>
<text transform="translate(27.6,221.0) rotate(-90)" font-size="6.7" class="bk">4</text>
<text transform="translate(23.8,207.8) rotate(-90)" font-size="13.7" class="bk">g</text>
<text transform="translate(27.4,198.9) rotate(-90)" font-size="9.6" class="bk">VS</text>
<text transform="translate(16.2,200.2) rotate(-90)" font-size="9.6" class="bk">&#8722;1</text>
<path d="M8.9,186.2 Q18.3,180.6 27.7,186.2" fill="none" stroke="#000" stroke-width="1.1"/>
</svg></body></html>
